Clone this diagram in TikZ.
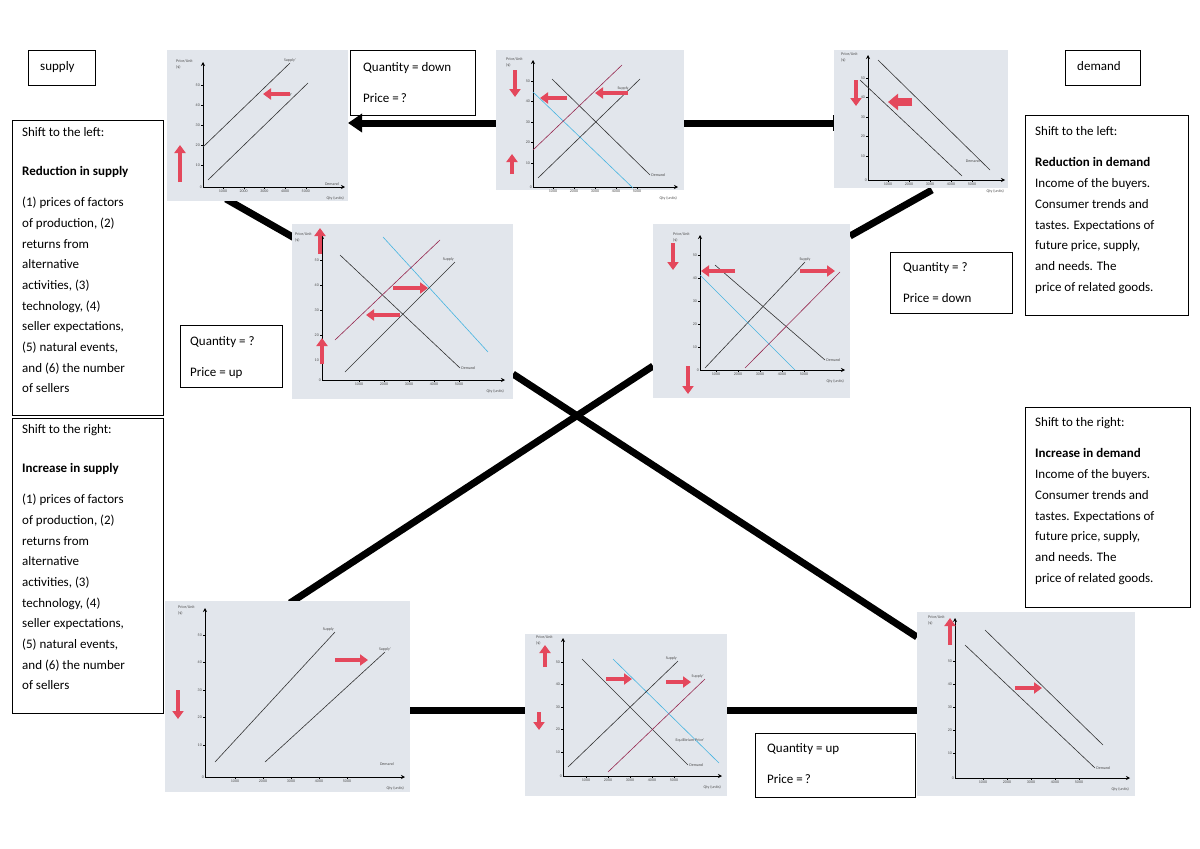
\documentclass[tikz,border=0pt]{standalone}
\usepackage{fontspec}
\setmainfont{Carlito}
\usetikzlibrary{arrows.meta}
\definecolor{redA}{RGB}{228,72,92}
\definecolor{chartbg}{RGB}{226,230,236}
\definecolor{blueL}{RGB}{70,180,225}
\definecolor{purp}{RGB}{150,40,80}
\tikzset{
  chart/.style={fill=chartbg,draw=none,anchor=north west,inner sep=0},
  conn/.style={line width=7pt,black},
  box/.style={draw,line width=1.1pt,anchor=north west,inner sep=0},
  txt/.style={anchor=north west,align=left,inner sep=0,font=\fontsize{13}{20.7}\selectfont},
  axis/.style={line width=0.6pt,-{Stealth[length=4,width=4]}},
  ln/.style={line width=0.6pt,black!80},
  bl/.style={line width=0.6pt,blueL},
  pu/.style={line width=0.6pt,purp},
  redarr/.style={line width=4pt,redA,-{Triangle[length=8,width=11]}},
  tl/.style={font=\fontsize{4}{4}\selectfont,inner sep=1pt,black!70},
}
% #1 ox #2 oy #3 xend #4 ytop #5 first y tick #6 ystep #7 first x tick #8 xstep
\newcommand\chartaxes[8]{%
  \draw[axis] (#1,#2) -- (#3,#2);
  \draw[axis] (#1,#2) -- (#1,#4);
  \node[tl,left] at (#1,#2) {0};
  \node[tl,anchor=south west] at (#1-28,#4+2) {Price/Unit};
  \node[tl,anchor=south west] at (#1-28,#4+8) {(\$)};
  \node[tl,anchor=north east] at (#3,#2+8) {Qty (units)};
  \foreach \i in {0,...,4}{%
    \pgfmathsetmacro\yy{#5-\i*#6}
    \pgfmathtruncatemacro\lab{(\i+1)*10}
    \draw[line width=0.4pt] (#1,\yy) -- ++(-2,0) node[tl,left]{\lab};
    \pgfmathsetmacro\xx{#7+\i*#8}
    \pgfmathtruncatemacro\labx{(\i+1)*1000}
    \draw[line width=0.4pt] (\xx,#2) -- ++(0,2) node[tl,below]{\labx};
  }%
}
\begin{document}
\begin{tikzpicture}[x=1pt,y=-1pt]
\useasboundingbox (0,0) rectangle (1200,849);
\fill[white] (0,0) rectangle (1200,849);

% chart frames
\node[chart,minimum width=181,minimum height=151] (c1) at (167,50) {};
\node[chart,minimum width=188,minimum height=140] (c2) at (496,50) {};
\node[chart,minimum width=174,minimum height=138] (c3) at (834,50) {};
\node[chart,minimum width=221,minimum height=175] (c4) at (292,224) {};
\node[chart,minimum width=197,minimum height=174] (c5) at (653,224) {};
\node[chart,minimum width=245,minimum height=191] (c6) at (165,601) {};
\node[chart,minimum width=202,minimum height=162] (c7) at (525,634) {};
\node[chart,minimum width=218,minimum height=184] (c8) at (917,612) {};

% connectors
\coordinate (a1) at (496,123); \coordinate (a2) at (348,123);
\draw[conn,-{Triangle[length=14,width=18]}] (a1) -- (a2);
\draw[conn] (c2.east |- a1) -- (c3.west |- a1);
\draw[line width=3pt] (834,115) -- (834,131);
\coordinate (b1) at (932,190); \coordinate (b2) at (850,236);
\draw[conn] (b1) -- (b2);
\coordinate (d1) at (226,199); \coordinate (d2) at (298,240);
\draw[conn] (d1) -- (d2);
\coordinate (e1) at (513,374); \coordinate (e2) at (917,637);
\draw[conn] (e1) -- (e2);
\coordinate (f1) at (653,366); \coordinate (f2) at (290,603);
\draw[conn] (f1) -- (f2);
\draw[conn] (c6.east |- 0,710) -- (c7.west |- 0,710);
\draw[conn] (c7.east |- 0,710) -- (c8.west |- 0,710);
% redraw chart backgrounds over connector ends
\foreach \c in {c1,c2,c3,c4,c5,c6,c7,c8}{\fill[chartbg] (\c.north west) rectangle (\c.south east);}

% chart 1
\chartaxes{203}{187}{345}{62}{165}{20}{223}{20.7}
\draw[ln] (208,180) -- (308,83) node[tl,pos=0.85,above left]{Supply};
\draw[ln] (203,147) -- (290,63) node[tl,above]{Supply'};
\node[tl,anchor=south east] at (340,187) {Demand};
\draw[redarr] (180,182) -- (180,145);
\draw[redarr] (290,94) -- (263,94);

% chart 2
\chartaxes{533}{187}{678}{60}{163}{20.5}{553}{21}
\draw[ln] (552,79) -- (650,175) node[tl,right]{Demand};
\draw[bl] (533,92) -- (633,188);
\draw[ln] (538,178) -- (640,79) node[tl,pos=0.9,left]{Supply};
\draw[pu] (533,150) -- (622,65);
\draw[redarr] (515,70) -- (515,97);
\draw[redarr] (512,174) -- (512,154);
\draw[redarr] (567,98) -- (540,98);
\draw[redarr] (628,93) -- (595,93);

% chart 3
\chartaxes{868}{180}{1005}{55}{156}{19.5}{888}{21}
\draw[ln] (878,60) -- (990,170) node[tl,pos=0.92,left]{Demand};
\draw[ln] (860,80) -- (962,176);
\draw[redarr] (856,80) -- (856,106);
\draw[line width=8pt,redA,-{Triangle[length=10,width=16]}] (912,102) -- (888,102);

% chart 4
\chartaxes{322}{380}{505}{235}{360}{25}{359}{25}
\draw[bl] (383,237) -- (488,352);
\draw[ln] (340,255) -- (460,368) node[tl,right]{Demand};
\draw[pu] (335,340) -- (440,240);
\draw[ln] (345,372) -- (455,262) node[tl,above left]{Supply};
\draw[redarr] (320,254) -- (320,228);
\draw[redarr] (322,364) -- (322,338);
\draw[redarr] (393,288) -- (428,288);
\draw[redarr] (400,315) -- (366,315);

% chart 5
\chartaxes{700}{370}{845}{235}{347}{23}{716}{22}
\draw[ln] (715,265) -- (825,360) node[tl,right]{Demand};
\draw[bl] (700,275) -- (795,370);
\draw[ln] (705,368) -- (805,262) node[tl,above]{Supply};
\draw[pu] (745,368) -- (840,272);
\draw[redarr] (673,243) -- (673,270);
\draw[redarr] (688,366) -- (688,394);
\draw[redarr] (735,271) -- (701,271);
\draw[redarr] (800,271) -- (835,271);

% chart 6
\chartaxes{205}{777}{405}{608}{745}{27.5}{235}{28}
\draw[ln] (215,762) -- (335,632) node[tl,above left]{Supply};
\draw[ln] (265,762) -- (385,652) node[tl,above]{Supply'};
\node[tl,anchor=south east] at (395,767) {Demand};
\draw[redarr] (178,690) -- (178,719);
\draw[redarr] (335,660) -- (368,660);

% chart 7
\chartaxes{563}{776}{722}{638}{752}{22.5}{586}{22}
\draw[ln] (582,659) -- (688,765) node[tl,right]{Demand};
\draw[bl] (613,659) -- (719,763);
\node[tl] at (690,740) {Equilibrium Price'};
\draw[ln] (568,767) -- (678,661) node[tl,above left]{Supply};
\draw[pu] (608,772) -- (705,679) node[tl,above left]{Supply'};
\draw[redarr] (545,667) -- (545,645);
\draw[redarr] (539,712) -- (539,730);
\draw[redarr] (606,679) -- (632,679);
\draw[redarr] (666,682) -- (691,682);

% chart 8
\chartaxes{955}{778}{1130}{618}{753}{23}{983}{24}
\draw[ln] (965,645) -- (1095,768) node[tl,right]{Demand};
\draw[ln] (985,630) -- (1103,745);
\draw[redarr] (950,645) -- (950,618);
\draw[redarr] (1015,688) -- (1042,688);

% text boxes
\node[box,minimum width=67,minimum height=35] (sup) at (28,50) {};
\node[txt] at (40,61) {supply};
\node[box,minimum width=75,minimum height=35] (dem) at (1065,50) {};
\node[txt] at (1077,61) {demand};

\node[box,minimum width=151,minimum height=295] (lb1) at (12,120) {};
\node[txt] (lt1) at (22,127) {Shift to the left:\\[19pt]\textbf{Reduction in supply}\\[10pt](1) prices of factors\\of production, (2)\\returns from\\alternative\\activities, (3)\\technology, (4)\\seller expectations,\\(5) natural events,\\and (6) the number\\of sellers};
\node[box,minimum width=151,minimum height=295] (lb2) at (12,418) {};
\node[txt] (lt2) at (22,424) {Shift to the right:\\[19pt]\textbf{Increase in supply}\\[10pt](1) prices of factors\\of production, (2)\\returns from\\alternative\\activities, (3)\\technology, (4)\\seller expectations,\\(5) natural events,\\and (6) the number\\of sellers};

\node[box,minimum width=163,minimum height=200] (rb1) at (1025,115) {};
\node[txt] (rt1) at (1035,126) {Shift to the left:\\[11pt]\textbf{Reduction in demand}\\Income of the buyers.\\Consumer trends and\\tastes. Expectations of\\future price, supply,\\and needs. The\\price of related goods.};
\node[box,minimum width=165,minimum height=200] (rb2) at (1025,407) {};
\node[txt] (rt2) at (1035,417) {Shift to the right:\\[11pt]\textbf{Increase in demand}\\Income of the buyers.\\Consumer trends and\\tastes. Expectations of\\future price, supply,\\and needs. The\\price of related goods.};

\node[box,minimum width=125,minimum height=65] (q1) at (350,50) {};
\node[txt] at (363,62) {Quantity = down\\[11pt]Price =\,?};
\node[box,minimum width=102,minimum height=62] (q2) at (180,325) {};
\node[txt] at (190,336) {Quantity = ?\\[11pt]Price = up};
\node[box,minimum width=122,minimum height=61] (q3) at (890,252) {};
\node[txt] at (903,262) {Quantity = ?\\[11pt]Price = down};
\node[box,minimum width=160,minimum height=64] (q4) at (755,733) {};
\node[txt] at (767,743) {Quantity = up\\[11pt]Price =\,?};
\end{tikzpicture}
\end{document}
